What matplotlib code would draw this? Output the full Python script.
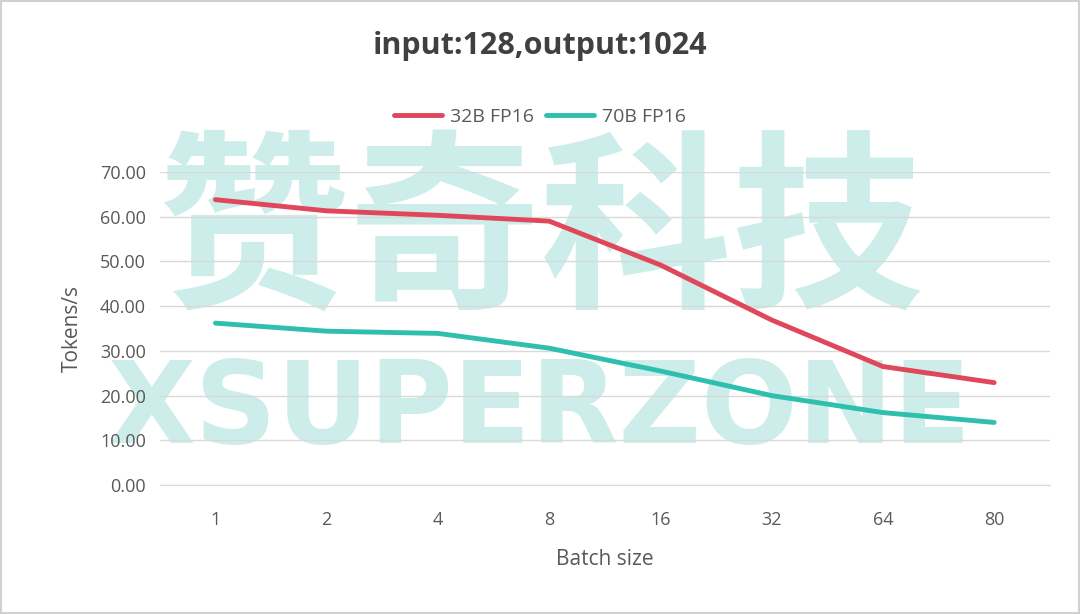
import matplotlib
matplotlib.use("Agg")
import matplotlib.pyplot as plt
import numpy as np

categories = ["1", "2", "4", "8", "16", "32", "64", "80"]
s32 = [63.8, 61.3, 60.3, 59.0, 49.2, 36.9, 26.5, 22.9]
s70 = [36.2, 34.4, 33.9, 30.6, 25.5, 20.0, 16.2, 14.0]
yticks = [0, 10, 20, 30, 40, 50, 60, 70]

plt.rcParams['font.family'] = ['Open Sans', 'Noto Sans CJK SC', 'DejaVu Sans']
fig = plt.figure(figsize=(10.8, 6.14), dpi=100)
ax = fig.add_axes([0.148, 0.21, 0.824, 0.51])
x = np.arange(len(categories))
# watermark (behind data)
ax.text(0.5, 0.615, "赞奇科技", transform=fig.transFigure, ha="center", va="center", fontsize=138,
        fontweight="bold", color="#8fd8d0", alpha=0.45, family=['Noto Sans CJK SC'], zorder=0)
ax.text(0.5, 0.33, "XSUPERZONE", transform=fig.transFigure, ha="center", va="center", fontsize=82,
        fontweight="bold", color="#8fd8d0", alpha=0.45, family=['DejaVu Sans'], zorder=0)
ax.plot(x, s32, color="#e0475a", lw=3.5, label="32B FP16", solid_capstyle="round", zorder=3)
ax.plot(x, s70, color="#2ebfaf", lw=3.5, label="70B FP16", solid_capstyle="round", zorder=3)
ax.set_xlim(-0.5, len(categories) - 0.5)
ax.set_ylim(0, 70)
ax.set_yticks(yticks)
ax.set_yticklabels([f"{v:.2f}" for v in yticks])
ax.set_xticks(x)
ax.set_xticklabels(categories)
ax.grid(axis="y", color="#d9d9d9", lw=1)
ax.set_axisbelow(True)
for s in ["top", "right", "left"]:
    ax.spines[s].set_visible(False)
ax.spines["bottom"].set_color("#d9d9d9")
ax.tick_params(axis="y", length=0, labelsize=13, colors="#595959", pad=10)
ax.tick_params(axis="x", length=0, labelsize=13, colors="#595959", pad=19)
ax.set_xlabel("Batch size", fontsize=15, color="#595959", labelpad=14)
ax.set_ylabel("Tokens/s", fontsize=15, color="#595959", labelpad=12)
fig.text(0.5, 0.925, "input:128,output:1024", ha="center", va="center",
         fontsize=22, fontweight="bold", color="#404040")
ax.legend(loc="center", bbox_to_anchor=(0.5, 0.81), bbox_transform=fig.transFigure,
          ncol=2, frameon=False, fontsize=14, labelcolor="#595959",
          handlelength=2.5, columnspacing=0.6, handletextpad=0.4)
fig.patches.append(plt.Rectangle((0.001, 0.001), 0.998, 0.998, transform=fig.transFigure,
                                 fill=False, edgecolor="#d0d0d0", lw=1.5))
fig.savefig("out.png", dpi=100)
